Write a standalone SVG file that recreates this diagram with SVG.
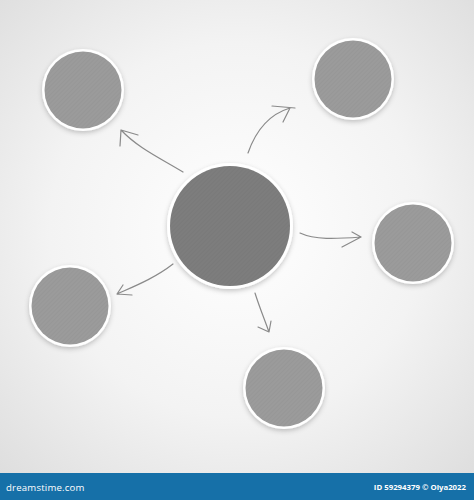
<svg xmlns="http://www.w3.org/2000/svg" width="474" height="500" viewBox="0 0 474 500">
<defs>
<radialGradient id="bg" cx="237" cy="230" r="340" gradientUnits="userSpaceOnUse">
<stop offset="0" stop-color="#ffffff"/>
<stop offset="0.55" stop-color="#f3f3f3"/>
<stop offset="1" stop-color="#dedede"/>
</radialGradient>
<filter id="sh" x="-30%" y="-30%" width="160%" height="160%">
<feDropShadow dx="0" dy="2" stdDeviation="2.5" flood-color="#000" flood-opacity="0.22"/>
</filter>
<pattern id="hatch" width="3" height="3" patternUnits="userSpaceOnUse" patternTransform="rotate(45)">
<rect width="3" height="3" fill="none"/>
<line x1="0" y1="0" x2="0" y2="3" stroke="#000" stroke-opacity="0.05" stroke-width="1"/>
</pattern>
<style>
.ring{fill:#ffffff;filter:url(#sh)}
.small{fill:#9b9b9b}
.big{fill:#7d7d7d}
.arr{fill:none;stroke:#8a8a8a;stroke-width:1.2;stroke-linecap:round;stroke-linejoin:round}
.foot{font-family:"Open Sans","Liberation Sans",sans-serif;fill:#ffffff}
</style>
</defs>
<rect width="474" height="500" fill="url(#bg)"/>

<g id="connectors">
<path class="arr" d="M183,172 C160,158 138,148 121,130 M121,130 L138,135 M121,130 L120,146"/>
<path class="arr" d="M248,153 C256,130 270,114 290,108 M272,106 L295,108 M290,108 L283,122"/>
<path class="arr" d="M300,233 C315,240 335,239 361,237 M361,237 L352,232 M361,237 L342,247"/>
<path class="arr" d="M173,264 C155,278 135,286 117,294 M117,294 L123,285 M117,294 L132,295"/>
<path class="arr" d="M255,293 C259,306 264,318 269,332 M269,332 L258,327 M269,332 L271,321"/>
</g>

<g id="center">
<circle class="ring" cx="230" cy="226" r="63"/>
<circle class="big" cx="230" cy="226" r="60"/>
<circle fill="url(#hatch)" cx="230" cy="226" r="60"/>
</g>
<g id="node-top-left">
<circle class="ring" cx="83" cy="90" r="41"/>
<circle class="small" cx="83" cy="90" r="38.5"/>
<circle fill="url(#hatch)" cx="83" cy="90" r="38.5"/>
</g>
<g id="node-top-right">
<circle class="ring" cx="353" cy="79" r="41"/>
<circle class="small" cx="353" cy="79" r="38.5"/>
<circle fill="url(#hatch)" cx="353" cy="79" r="38.5"/>
</g>
<g id="node-right">
<circle class="ring" cx="413" cy="243" r="41"/>
<circle class="small" cx="413" cy="243" r="38.5"/>
<circle fill="url(#hatch)" cx="413" cy="243" r="38.5"/>
</g>
<g id="node-left">
<circle class="ring" cx="70" cy="306" r="41"/>
<circle class="small" cx="70" cy="306" r="38.5"/>
<circle fill="url(#hatch)" cx="70" cy="306" r="38.5"/>
</g>
<g id="node-bottom">
<circle class="ring" cx="284" cy="388" r="41"/>
<circle class="small" cx="284" cy="388" r="38.5"/>
<circle fill="url(#hatch)" cx="284" cy="388" r="38.5"/>
</g>

<g id="footer">
<rect x="0" y="473" width="474" height="27" fill="#1670a8"/>
<text class="foot" x="6" y="491" font-size="9.6" letter-spacing="0.2">dreamstime.com</text>
<text class="foot" x="466" y="490" font-size="7.8" font-weight="bold" text-anchor="end">ID 59294379 © Olya2022</text>
</g>
</svg>
